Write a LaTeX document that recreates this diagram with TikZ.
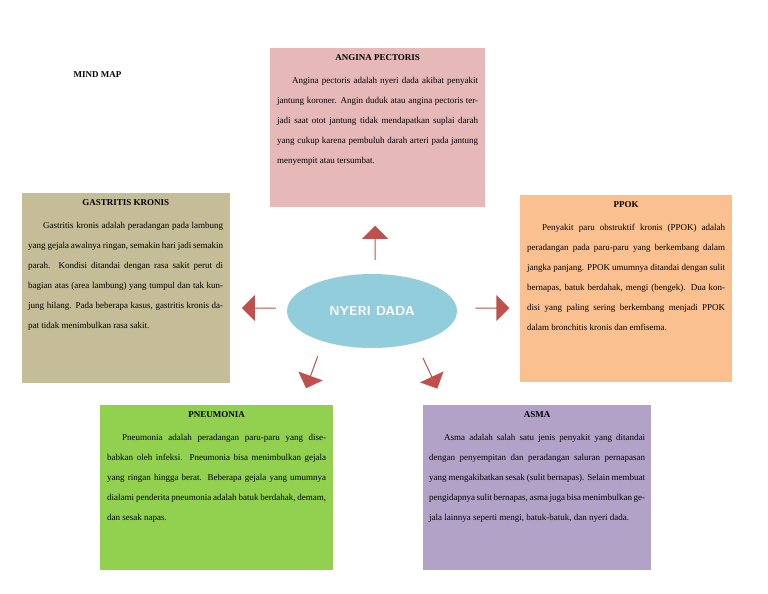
\documentclass[tikz,border=0pt]{standalone}
\usepackage{fontspec}
\setmainfont{Liberation Serif}
\usepackage{ragged2e}
\usetikzlibrary{shapes.geometric,shapes.arrows}
\definecolor{cang}{HTML}{E6B9B8}
\definecolor{cppok}{HTML}{FAC090}
\definecolor{cgas}{HTML}{C4BD97}
\definecolor{cpne}{HTML}{92D050}
\definecolor{casm}{HTML}{B3A2C7}
\definecolor{cell}{HTML}{92CDDC}
\definecolor{carr}{HTML}{C0504D}
\tikzset{
 box/.style={anchor=north west,inner sep=0pt,outer sep=0pt,minimum height=#1},
 bar/.style={single arrow,fill=carr,draw=none,minimum width=26pt,single arrow head extend=5pt,minimum height=34pt,inner sep=0pt,single arrow tip angle=90}
}
\newcommand{\boxtxt}[3]{\parbox[t]{#1}{\fontsize{9}{20}\selectfont\vspace{2pt}\centering\textbf{#2}\par\vspace{3pt}\justifying #3\par}}
\begin{document}
\begin{tikzpicture}[x=1pt,y=-1pt]
\useasboundingbox (0,0) rectangle (768,594);
\fill[white] (0,0) rectangle (768,594);
\node[anchor=west,font=\fontsize{9}{11}\selectfont\bfseries] (mm) at (70,75) {MIND MAP};
\fill[cang] (270,48) rectangle (485,207);
\node[anchor=north west,inner sep=0pt] (ang) at (277,52) {\boxtxt{201pt}{ANGINA PECTORIS}{Angina pectoris adalah nyeri dada akibat penyakit jantung koroner. Angin duduk atau angina pectoris terjadi saat otot jantung tidak mendapatkan suplai darah yang cukup karena pembuluh darah arteri pada jantung menyempit atau tersumbat.}};
\fill[cppok] (520,195) rectangle (732,382);
\node[anchor=north west,inner sep=0pt] (ppok) at (527,199) {\boxtxt{198pt}{PPOK}{Penyakit paru obstruktif kronis (PPOK) adalah peradangan pada paru-paru yang berkembang dalam jangka panjang. PPOK umumnya ditandai dengan sulit bernapas, batuk berdahak, mengi (bengek). Dua kondisi yang paling sering berkembang menjadi PPOK dalam bronchitis kronis dan emfisema.}};
\fill[cgas] (22,193) rectangle (230,383);
\node[anchor=north west,inner sep=0pt] (gas) at (28,197) {\boxtxt{195pt}{GASTRITIS KRONIS}{Gastritis kronis adalah peradangan pada lambung yang gejala awalnya ringan, semakin hari jadi semakin parah. Kondisi ditandai dengan rasa sakit perut di bagian atas (area lambung) yang tumpul dan tak kunjung hilang. Pada beberapa kasus, gastritis kronis dapat tidak menimbulkan rasa sakit.}};
\fill[cpne] (100,405) rectangle (333,570);
\node[anchor=north west,inner sep=0pt] (pne) at (107,409) {\boxtxt{219pt}{PNEUMONIA}{Pneumonia adalah peradangan paru-paru yang disebabkan oleh infeksi. Pneumonia bisa menimbulkan gejala yang ringan hingga berat. Beberapa gejala yang umumnya dialami penderita pneumonia adalah batuk berdahak, demam, dan sesak napas.}};
\fill[casm] (423,405) rectangle (651,570);
\node[anchor=north west,inner sep=0pt] (asm) at (429,409) {\boxtxt{216pt}{ASMA}{Asma adalah salah satu jenis penyakit yang ditandai dengan penyempitan dan peradangan saluran pernapasan yang mengakibatkan sesak (sulit bernapas). Selain membuat pengidapnya sulit bernapas, asma juga bisa menimbulkan gejala lainnya seperti mengi, batuk-batuk, dan nyeri dada.}};
\node[ellipse,fill=cell,minimum width=170pt,minimum height=74pt,text=white,font=\fontsize{13}{15}\selectfont\sffamily\bfseries] (c) at (372,311) {NYERI DADA};
\node[bar,rotate=90] (a1) at (375,243) {};
\node[bar] (a2) at (492,308) {};
\node[bar,rotate=180] (a3) at (259,308) {};
\node[bar,rotate=-110] (a4) at (312,372) {};
\node[bar,rotate=-65] (a5) at (430,373) {};
\end{tikzpicture}
\end{document}
